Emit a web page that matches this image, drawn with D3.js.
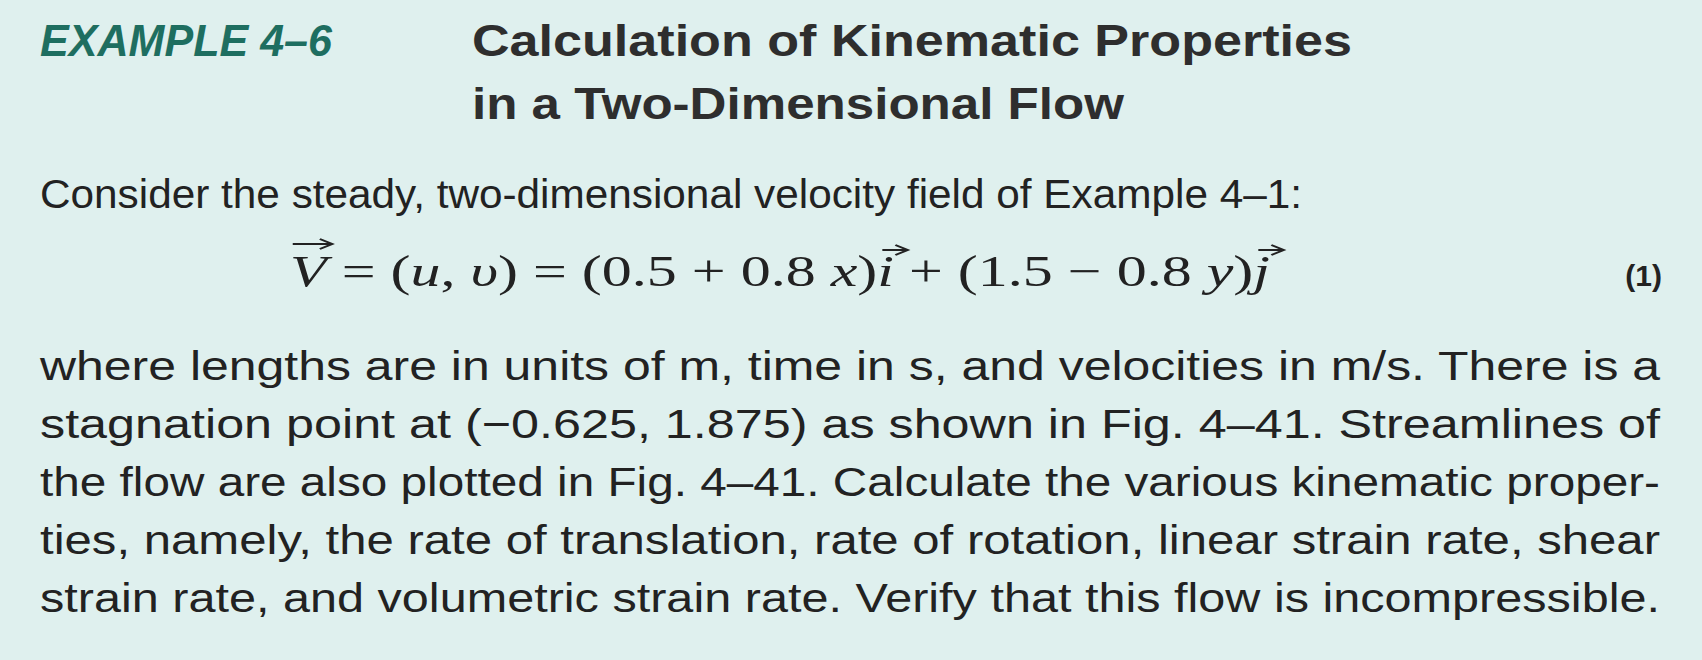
<!DOCTYPE html>
<html><head><meta charset="utf-8">
<script src="https://cdn.jsdelivr.net/npm/d3@7/dist/d3.min.js"></script>
<style>body{margin:0;background:#dff0ee}</style></head>
<body><svg id="c" width="1702" height="660"></svg>
<script>
const titleLabel = "EXAMPLE 4–6";
const headingLines = ["Calculation of Kinematic Properties", "in a Two-Dimensional Flow"];
const introLine = "Consider the steady, two-dimensional velocity field of Example 4–1:";
const eqPieces = [["V","i",1],[" = (",""],["u","i"],[", ",""],["υ","i"],[") = (0.5 + 0.8 ",""],["x","i"],[")",""],["i","i",1],[" + (1.5 − 0.8 ",""],["y","i"],[")",""],["j","i",1]];
const eqNumber = "(1)";
const bodyLines = [
 "where lengths are in units of m, time in s, and velocities in m/s. There is a",
 "stagnation point at (−0.625, 1.875) as shown in Fig. 4–41. Streamlines of",
 "the flow are also plotted in Fig. 4–41. Calculate the various kinematic proper-",
 "ties, namely, the rate of translation, rate of rotation, linear strain rate, shear",
 "strain rate, and volumetric strain rate. Verify that this flow is incompressible."
];
const svg = d3.select("#c");
svg.append("rect").attr("width",1702).attr("height",660).attr("fill","#dff0ee");
const sans = "'Liberation Sans Narrow','Arial Narrow','Liberation Sans',sans-serif";
const body = "'Liberation Sans','Arial',sans-serif";
svg.append("text").attr("x",40).attr("y",56).attr("font-family",sans).attr("font-size",44)
 .attr("font-style","italic").attr("font-weight","bold").attr("fill","#1e6e60")
 .attr("textLength",292).attr("lengthAdjust","spacingAndGlyphs").text(titleLabel);
const hy = d3.scaleLinear().domain([0,1]).range([56,119]);
const hw = [880, 652];
headingLines.forEach((t,i)=>svg.append("text").attr("x",472).attr("y",hy(i)).attr("font-family",sans)
 .attr("font-size",44).attr("font-weight","bold").attr("fill","#2e2e2e")
 .attr("textLength",hw[i]).attr("lengthAdjust","spacingAndGlyphs").text(t));
svg.append("text").attr("x",40).attr("y",208).attr("font-family",body).attr("font-size",40)
 .attr("fill","#222").attr("textLength",1262).attr("lengthAdjust","spacingAndGlyphs").text(introLine);
// equation
const eg = svg.append("g").attr("font-family","'Liberation Serif','Times New Roman',serif").attr("font-size",44).attr("fill","#222");
let x = 0; const arrows=[];
eqPieces.forEach(p=>{
  const t = eg.append("text").attr("x",x).attr("y",0).attr("font-style",p[1]?"italic":"normal").attr("xml:space","preserve").style("white-space","pre").text(p[0]);
  const w = t.node().getComputedTextLength();
  if(p[2]) arrows.push([x,w]);
  x += w;
});
const sx = 980/x;
eg.attr("transform",`translate(290,286) scale(${sx},1)`);
arrows.forEach(([ax,w],k)=>{
  const x0 = ax + (k===0?2:w*0.3), x1 = ax + w + (k===0?4:10), yy = k===0?-42:-36;
  eg.append("path").attr("d",`M${x0},${yy}H${x1}M${x1-9},${yy-5}L${x1},${yy}L${x1-9},${yy+5}`).attr("stroke","#222").attr("stroke-width",2).attr("fill","none");
});
svg.append("text").attr("x",1662).attr("y",286).attr("text-anchor","end").attr("font-family",body).attr("font-weight","bold").attr("font-size",30).attr("fill","#222").text(eqNumber);
const by = d3.scaleLinear().domain([0,4]).range([380,612]);
bodyLines.forEach((t,i)=>svg.append("text").attr("x",40).attr("y",by(i)).attr("font-family",body)
 .attr("font-size",41).attr("fill","#222").attr("textLength",1620).attr("lengthAdjust","spacingAndGlyphs").text(t));
</script></body></html>
